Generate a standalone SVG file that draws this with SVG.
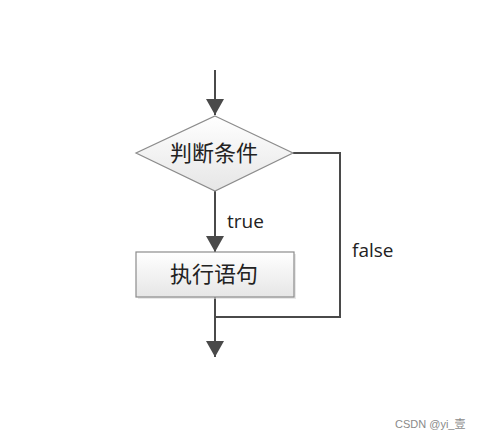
<svg xmlns="http://www.w3.org/2000/svg" width="481" height="440" viewBox="0 0 481 440">
<style>
.shape{stroke:#8c8c8c;stroke-width:1.2}
.conn{stroke:#4a4a4a;stroke-width:2;fill:none}
.cjk{font-family:"Noto Sans CJK SC","Noto Sans",sans-serif;font-size:22px;fill:#222;text-anchor:middle}
.lbl{font-family:"Open Sans","Liberation Sans",sans-serif;font-size:19px;fill:#222}
.wm{font-family:"Liberation Sans","Noto Sans CJK SC",sans-serif;font-size:11px;fill:#8a8a8a}
</style>
<defs>
<linearGradient id="g" x1="0" y1="0" x2="0" y2="1">
<stop offset="0" stop-color="#ffffff"/>
<stop offset="1" stop-color="#e6e6e6"/>
</linearGradient>
<marker id="a" viewBox="0 0 16 18" refX="16" refY="9" markerWidth="16" markerHeight="18" markerUnits="userSpaceOnUse" orient="auto">
<path d="M0,0 L16,9 L0,18 z" fill="#4a4a4a"/>
</marker>
</defs>
<rect width="481" height="440" fill="#ffffff"/>
<g id="connectors">
<line class="conn" x1="215" y1="70" x2="215" y2="115" marker-end="url(#a)"/>
<line class="conn" x1="215" y1="191" x2="215" y2="252" marker-end="url(#a)"/>
<polyline class="conn" points="293,153 340,153 340,317 215,317"/>
<line class="conn" x1="215" y1="297" x2="215" y2="357" marker-end="url(#a)"/>
</g>
<g id="decision">
<polygon class="shape" points="215,116 293,153 215,191 136,153" fill="url(#g)"/>
<text class="cjk" x="214" y="161">判断条件</text>
</g>
<g id="process">
<rect x="138" y="254" width="158" height="45" fill="#d8d8d8" opacity="0.6"/>
<rect class="shape" x="136" y="252" width="158" height="45" fill="url(#g)"/>
<text class="cjk" x="214" y="282">执行语句</text>
</g>
<g id="labels">
<text class="lbl" x="227" y="228">true</text>
<text class="lbl" x="352" y="257">false</text>
</g>
<text class="wm" x="395" y="428">CSDN @yi_壹</text>
</svg>
